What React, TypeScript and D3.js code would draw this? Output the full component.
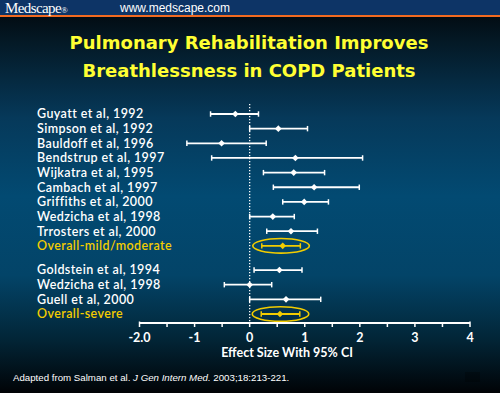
import React from 'react';
import * as d3 from 'd3';

// study rows (top to bottom)
const studies = [
  'Guyatt et al, 1992',
  'Simpson et al, 1992',
  'Bauldoff et al, 1996',
  'Bendstrup et al, 1997',
  'Wijkatra et al, 1995',
  'Cambach et al, 1997',
  'Griffiths et al, 2000',
  'Wedzicha et al, 1998',
  'Trrosters et al, 2000',
  'Overall-mild/moderate',
  'Goldstein et al, 1994',
  'Wedzicha et al, 1998',
  'Guell et al, 2000',
  'Overall-severe',
];
const effect = [-0.26, 0.52, -0.51, 0.83, 0.8, 1.17, 0.99, 0.42, 0.75, 0.6, 0.54, 0.0, 0.66, 0.55];
const lower = [-0.71, 0.0, -1.14, -0.69, 0.25, 0.43, 0.6, 0.0, 0.31, 0.22, 0.08, -0.46, 0.0, 0.21];
const upper = [0.16, 1.05, 0.3, 2.05, 1.36, 1.99, 1.43, 0.81, 1.23, 0.92, 0.95, 0.4, 1.29, 0.91];
const overall = [false, false, false, false, false, false, false, false, false, true, false, false, false, true];
const group = [0, 0, 0, 0, 0, 0, 0, 0, 0, 0, 1, 1, 1, 1];

const tickValues = [-2, -1.5, -1, -0.5, 0, 0.5, 1, 1.5, 2, 2.5, 3, 3.5, 4];
const tickLabels = ['-2.0', '-1', '0', '1', '2', '3', '4'];
const labelValues = [-2, -1, 0, 1, 2, 3, 4];

const W = 500;
const H = 393;
const WHITE = '#ffffff';
const GOLD = '#f2cc00';
const TITLE = '#ffff33';
const FONT = "Lato, 'DejaVu Sans', sans-serif";

const App = () => {
  const x = d3.scaleLinear().domain([-2, 4]).range([139.5, 470]);
  const groupGap = 0.65;
  const rowPos = studies.map((_, i) => i + group[i] * groupGap);
  const y = d3.scaleLinear().domain([0, d3.max(rowPos) as number]).range([114, 314]);
  const axisY = 323;
  const diamond = d3.symbol().type(d3.symbolSquare).size(22)() as string;

  return (
    <svg width={W} height={H} style={{ position: 'absolute', left: 0, top: 0, display: 'block' }}>
      <defs>
        <linearGradient id="bg" x1="0" y1="0" x2="0" y2="1">
          <stop offset="0" stopColor="#010408" />
          <stop offset="0.1" stopColor="#041824" />
          <stop offset="0.3" stopColor="#06395a" />
          <stop offset="0.5" stopColor="#024a72" />
          <stop offset="0.7" stopColor="#034468" />
          <stop offset="0.86" stopColor="#022638" />
          <stop offset="1" stopColor="#010306" />
        </linearGradient>
      </defs>
      <rect x={0} y={0} width={W} height={H} fill="url(#bg)" />
      {/* header bar */}
      <rect x={0} y={0} width={W} height={15} fill="#0d3466" />
      <rect x={0} y={15} width={W} height={2} fill="#f26a21" />
      <text x={5} y={12.5} fill={WHITE} fontFamily="'Liberation Serif', serif" fontSize={15} letterSpacing={-0.6}>
        Medscape<tspan fontSize={9}>®</tspan>
      </text>
      <text x={120} y={12} fill={WHITE} fontFamily="'Liberation Sans', Arial, sans-serif" fontSize={12}>
        www.medscape.com
      </text>

      {/* title */}
      <g fill={TITLE} fontFamily="'DejaVu Sans', sans-serif" fontWeight={700} fontSize={18} textAnchor="middle">
        <text x={249} y={49}>Pulmonary Rehabilitation Improves</text>
        <text x={249} y={77}>Breathlessness in COPD Patients</text>
      </g>

      {/* zero line */}
      <line x1={x(0)} x2={x(0)} y1={104} y2={axisY} stroke={WHITE} strokeWidth={1.3} strokeDasharray="1.3,1.7" />

      {/* rows */}
      {studies.map((s, i) => {
        const cy = y(rowPos[i]);
        const c = overall[i] ? GOLD : WHITE;
        return (
          <g key={i}>
            <text x={37} y={cy + 4.3} fill={c} fontFamily={FONT} fontWeight={600} fontSize={12.5} letterSpacing={0.4}>
              {s}
            </text>
            {overall[i] && (
              <ellipse
                cx={(x(lower[i]) + x(upper[i])) / 2}
                cy={cy}
                rx={(x(upper[i]) - x(lower[i])) / 2 + 9}
                ry={7.3}
                fill="none"
                stroke={GOLD}
                strokeWidth={1.6}
              />
            )}
            <line x1={x(lower[i])} x2={x(upper[i])} y1={cy} y2={cy} stroke={c} strokeWidth={1.8} />
            <line x1={x(lower[i])} x2={x(lower[i])} y1={cy - 2.7} y2={cy + 2.7} stroke={c} strokeWidth={1.5} />
            <line x1={x(upper[i])} x2={x(upper[i])} y1={cy - 2.7} y2={cy + 2.7} stroke={c} strokeWidth={1.5} />
            <path d={diamond} transform={`translate(${x(effect[i])},${cy}) rotate(45)`} fill={c} />
          </g>
        );
      })}

      {/* x axis */}
      <line x1={x(-2)} x2={x(4)} y1={axisY} y2={axisY} stroke={WHITE} strokeWidth={1.8} />
      {tickValues.map((t, i) => {
        const end = i === 0 || i === tickValues.length - 1;
        return (
          <line key={t} x1={x(t)} x2={x(t)} y1={end ? axisY - 1.5 : axisY} y2={axisY + 4} stroke={WHITE} strokeWidth={1.5} />
        );
      })}
      <g fill={WHITE} fontFamily={FONT} fontWeight={700} fontSize={12.5} textAnchor="middle">
        {labelValues.map((v, i) => (
          <text key={v} x={x(v)} y={342}>
            {tickLabels[i]}
          </text>
        ))}
        <text x={287} y={357}>Effect Size With 95% CI</text>
      </g>

      {/* footer */}
      <text x={13} y={381} fill={WHITE} fontFamily="'Liberation Sans', Arial, sans-serif" fontSize={9.7}>
        Adapted from Salman et al. <tspan fontStyle="italic">J Gen Intern Med.</tspan> 2003;18:213-221.
      </text>
      <rect x={465} y={372} width={15} height={10} fill="#000000" opacity={0.25} />
    </svg>
  );
};

export default App;
